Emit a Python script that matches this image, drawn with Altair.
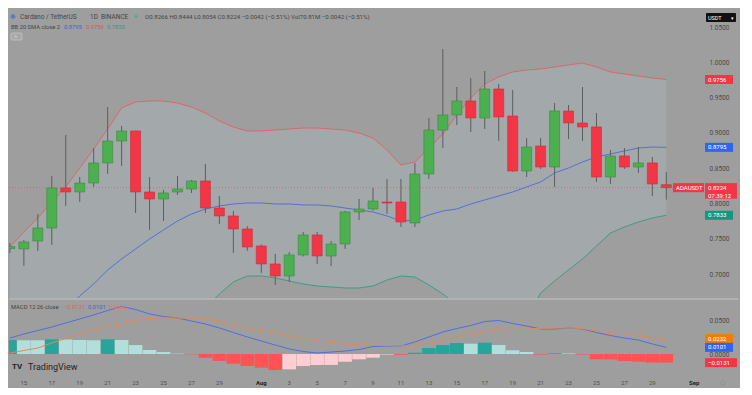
import altair as alt
import pandas as pd

FONT = "Roboto"

# day index: 0 = July 15 (daily candles, last = Aug 30)
day = list(range(-1, 47))
open_ = [0.7360, 0.7356, 0.7469, 0.7653, 0.8220, 0.8163, 0.8290, 0.8574, 0.8885, 0.9027,
         0.8163, 0.8064, 0.8163, 0.8205, 0.8319, 0.7936, 0.7823, 0.7639, 0.7398, 0.7143,
         0.6973, 0.7271, 0.7554, 0.7256, 0.7426, 0.7880, 0.7922, 0.8021, 0.8021, 0.7724,
         0.8418, 0.9041, 0.9254, 0.9452, 0.9211, 0.9622, 0.9239, 0.8460, 0.8814, 0.8517,
         0.9310, 0.9140, 0.9084, 0.8375, 0.8673, 0.8517, 0.8574, 0.8266]
high = [0.7440, 0.7483, 0.7851, 0.8390, 0.8970, 0.8375, 0.8786, 0.9367, 0.9098, 0.9030,
        0.8375, 0.8191, 0.8390, 0.8333, 0.8559, 0.8106, 0.7894, 0.7680, 0.7420, 0.7285,
        0.7313, 0.7596, 0.7596, 0.7469, 0.7894, 0.8064, 0.8220, 0.8347, 0.8347, 0.8574,
        0.9211, 1.0188, 0.9650, 0.9778, 0.9877, 0.9693, 0.9608, 0.8928, 0.8928, 0.9424,
        0.9395, 0.9650, 0.9282, 0.8758, 0.8786, 0.8800, 0.8659, 0.8444]
low = [0.7300, 0.7115, 0.7327, 0.7412, 0.7965, 0.8021, 0.8234, 0.8418, 0.8531, 0.7865,
       0.7625, 0.7752, 0.8120, 0.8149, 0.7865, 0.7710, 0.7299, 0.7330, 0.7016, 0.6846,
       0.6888, 0.7250, 0.7143, 0.7115, 0.7356, 0.7766, 0.7900, 0.7851, 0.7667, 0.7667,
       0.8347, 0.8786, 0.9112, 0.9013, 0.9055, 0.8885, 0.8450, 0.8375, 0.8489, 0.8234,
       0.8914, 0.8885, 0.8305, 0.8276, 0.8489, 0.8432, 0.8106, 0.8054]
close = [0.7390, 0.7455, 0.7653, 0.8220, 0.8163, 0.8290, 0.8574, 0.8885, 0.9027, 0.8163,
         0.8064, 0.8149, 0.8205, 0.8319, 0.7936, 0.7823, 0.7639, 0.7384, 0.7143, 0.6973,
         0.7271, 0.7554, 0.7256, 0.7426, 0.7880, 0.7922, 0.8035, 0.8007, 0.7738, 0.8418,
         0.9041, 0.9254, 0.9452, 0.9211, 0.9622, 0.9225, 0.8460, 0.8800, 0.8517, 0.9310,
         0.9140, 0.9084, 0.8375, 0.8673, 0.8517, 0.8574, 0.8276, 0.8224]

bb_upper = [0.7384, 0.7596, 0.7795, 0.8021, 0.8234, 0.8503, 0.8772, 0.9055, 0.9353, 0.9438,
            0.9452, 0.9452, 0.9423, 0.9367, 0.9282, 0.9169, 0.9084, 0.9027, 0.9027, 0.9041,
            0.9055, 0.9069, 0.9069, 0.9055, 0.9041, 0.8999, 0.8928, 0.8758, 0.8545, 0.8588,
            0.8786, 0.8984, 0.9254, 0.9494, 0.9693, 0.9792, 0.9863, 0.9891, 0.9905, 0.9933,
            0.9962, 0.9990, 0.9933, 0.9863, 0.9834, 0.9806, 0.9778, 0.9756]
bb_basis = [0.5783, 0.5953, 0.6137, 0.6307, 0.6492, 0.6690, 0.6860, 0.7058, 0.7214, 0.7356,
            0.7497, 0.7625, 0.7752, 0.7851, 0.7922, 0.7965, 0.7993, 0.8007, 0.8007, 0.7993,
            0.7993, 0.7979, 0.7979, 0.7965, 0.7936, 0.7908, 0.7880, 0.7823, 0.7752, 0.7766,
            0.7837, 0.7894, 0.7922, 0.7993, 0.8050, 0.8106, 0.8163, 0.8234, 0.8305, 0.8432,
            0.8503, 0.8588, 0.8659, 0.8701, 0.8744, 0.8786, 0.8800, 0.8795]
bb_lower = [0.4200, 0.4300, 0.4500, 0.4600, 0.4700, 0.4900, 0.5000, 0.5100, 0.5100, 0.5300,
            0.5500, 0.5800, 0.6100, 0.6350, 0.6520, 0.6718, 0.6888, 0.6973, 0.6973, 0.6945,
            0.6902, 0.6860, 0.6831, 0.6817, 0.6803, 0.6803, 0.6831, 0.6916, 0.6973, 0.6959,
            0.6846, 0.6718, 0.6562, 0.6378, 0.6208, 0.6137, 0.6137, 0.6350, 0.6732, 0.6902,
            0.7058, 0.7214, 0.7398, 0.7582, 0.7667, 0.7738, 0.7795, 0.7833]

macd_line = [0.0242, 0.0303, 0.0356, 0.0409, 0.0470, 0.0530, 0.0591, 0.0659, 0.0720, 0.0674,
             0.0606, 0.0568, 0.0545, 0.0500, 0.0455, 0.0394, 0.0326, 0.0258, 0.0197, 0.0136,
             0.0076, 0.0038, 0.0015, 0.0030, 0.0045, 0.0068, 0.0114, 0.0121, 0.0121, 0.0182,
             0.0258, 0.0333, 0.0386, 0.0432, 0.0492, 0.0508, 0.0462, 0.0424, 0.0379, 0.0379,
             0.0394, 0.0379, 0.0326, 0.0280, 0.0242, 0.0212, 0.0152, 0.0101]
signal_line = [0.0015, 0.0053, 0.0091, 0.0167, 0.0235, 0.0303, 0.0364, 0.0417, 0.0462, 0.0508,
               0.0538, 0.0545, 0.0545, 0.0545, 0.0530, 0.0500, 0.0447, 0.0394, 0.0356, 0.0318,
               0.0273, 0.0227, 0.0197, 0.0174, 0.0152, 0.0136, 0.0136, 0.0129, 0.0121, 0.0136,
               0.0167, 0.0205, 0.0258, 0.0295, 0.0333, 0.0364, 0.0371, 0.0379, 0.0386, 0.0394,
               0.0394, 0.0386, 0.0348, 0.0326, 0.0303, 0.0280, 0.0250, 0.0232]
histogram = [0.0212, 0.0208, 0.0208, 0.0223, 0.0220, 0.0212, 0.0208, 0.0223, 0.0212, 0.0136,
             0.0061, 0.0030, 0.0005, -0.0005, -0.0056, -0.0106, -0.0147, -0.0182, -0.0208, -0.0242,
             -0.0232, -0.0182, -0.0167, -0.0165, -0.0117, -0.0080, -0.0056, -0.0008, -0.0012, 0.0020,
             0.0091, 0.0136, 0.0167, 0.0156, 0.0171, 0.0136, 0.0056, 0.0030, -0.0008, 0.0010,
             0.0008, -0.0008, -0.0080, -0.0082, -0.0106, -0.0117, -0.0129, -0.0131]
hist_shade = ["g", "lg", "lg", "g", "lg", "lg", "lg", "g", "lg", "lg",
              "lg", "lg", "lg", "r", "r", "r", "r", "r", "r", "r",
              "lr", "lr", "lr", "lr", "lr", "lr", "lr", "lr", "r", "g",
              "g", "g", "g", "lg", "g", "lg", "lg", "lg", "r", "g",
              "lg", "r", "r", "r", "r", "r", "r", "r"]

tick_day = [0, 2, 4, 6, 8, 10, 12, 14, 17, 19, 21, 23, 25, 27, 29, 31, 33, 35, 37, 39, 41, 43, 45, 48]
tick_label = ["15", "17", "19", "21", "23", "25", "27", "29", "Aug", "3", "5", "7", "9", "11",
              "13", "15", "17", "19", "21", "23", "25", "27", "29", "Sep"]
month_labels = ["Aug", "Sep"]

price_ticks = [0.70, 0.75, 0.80, 0.85, 0.90, 0.95, 1.00, 1.05]
macd_ticks = [0.0, 0.05]

df = pd.DataFrame(dict(day=day, open=open_, high=high, low=low, close=close,
                       upper=bb_upper, basis=bb_basis, lower=bb_lower,
                       macd=macd_line, signal=signal_line, hist=histogram, shade=hist_shade))
df["dir"] = ["up" if c >= o else "down" for o, c in zip(open_, close)]

W = 682
H_MAIN = 288
H_MACD = 77
BG = "#9e9e9e"
TXT = "#454545"

xsc = alt.Scale(domain=[-0.706, 47.41], nice=False, zero=False)
ysc = alt.Scale(domain=[0.6661, 1.0741], nice=False, zero=False)
msc = alt.Scale(domain=[-0.0333, 0.0833], nice=False, zero=False)

yax = alt.Axis(orient="right", values=price_ticks, format=".4f", labelPadding=18, ticks=False,
               domain=False, grid=False, labelFontSize=6.5, labelColor="#4a4a4a", labelFont=FONT,
               title=None)
max_ = alt.Axis(orient="right", values=macd_ticks, format=".4f", labelPadding=18, ticks=False,
                domain=False, grid=False, labelFontSize=6.5, labelColor="#4a4a4a", labelFont=FONT,
                title=None)

X = alt.X("day:Q", scale=xsc, axis=None)
base = alt.Chart(df)


def label(text, x, y, color=TXT, size=6.5, weight="normal", align="left"):
    return alt.Chart(pd.DataFrame({"t": [text]})).mark_text(
        align=align, baseline="middle", fontSize=size, font=FONT, color=color, fontWeight=weight
    ).encode(x=alt.value(x), y=alt.value(y), text="t:N")


def tag(value, text, fill, sc, ax, x1=696, x2=724, up=4.5, down=4.5, tx=699, text2=None):
    d = alt.Chart(pd.DataFrame({"v": [value], "t": [text], "t2": [text2 or ""]}))
    layers = [
        d.mark_rect(color=fill, yOffset=-up, y2Offset=down).encode(
            y=alt.Y("v:Q", scale=sc, axis=ax), y2="v:Q", x=alt.value(x1), x2=alt.value(x2)),
        d.mark_text(align="left", baseline="middle", color="white", fontSize=6, font=FONT).encode(
            y=alt.Y("v:Q", scale=sc, axis=ax), x=alt.value(tx), text="t:N"),
    ]
    if text2:
        layers.append(d.mark_text(align="left", baseline="middle", color="white", fontSize=6,
                                  font=FONT, dy=8).encode(
            y=alt.Y("v:Q", scale=sc, axis=ax), x=alt.value(tx), text="t2:N"))
    return layers


# ---------------- main panel ----------------
band = base.mark_area(color="#a3a8ab", clip=True).encode(
    X, alt.Y("lower:Q", scale=ysc, axis=yax), alt.Y2("upper:Q"))
up_line = base.mark_line(color="#d9686c", strokeWidth=1, clip=True).encode(
    X, alt.Y("upper:Q", scale=ysc, axis=yax))
mid_line = base.mark_line(color="#5670d6", strokeWidth=1, clip=True).encode(
    X, alt.Y("basis:Q", scale=ysc, axis=yax))
lo_line = base.mark_line(color="#3f9c86", strokeWidth=1, clip=True).encode(
    X, alt.Y("lower:Q", scale=ysc, axis=yax))

last_close = close[-1]
price_line = alt.Chart(pd.DataFrame({"v": [last_close]})).mark_rule(
    color="#e04858", strokeDash=[1, 2], opacity=0.55, strokeWidth=1).encode(
    y=alt.Y("v:Q", scale=ysc, axis=yax), x=alt.value(0), x2=alt.value(W))

wicks = base.mark_rule(color="#5e5e5e", strokeWidth=1, clip=True).encode(
    X, alt.Y("low:Q", scale=ysc, axis=yax), alt.Y2("high:Q"))
bodies = base.mark_bar(size=10, clip=True, strokeWidth=0.6).encode(
    X, alt.Y("open:Q", scale=ysc, axis=yax), alt.Y2("close:Q"),
    color=alt.Color("dir:N", scale=alt.Scale(domain=["up", "down"], range=["#4caf50", "#f23645"]),
                    legend=None),
    stroke=alt.Stroke("dir:N", scale=alt.Scale(domain=["up", "down"], range=["#3b8a3e", "#c92d3a"]),
                      legend=None))

ohlc = (f"O{open_[-1]:.4f}  H{high[-1]:.4f}  L{low[-1]:.4f}  C{close[-1]:.4f}  "
        f"\u22120.0042 (\u22120.51%)  Vol70.81M  \u22120.0042 (\u22120.51%)")

logo = alt.Chart(pd.DataFrame({"a": [1]})).mark_point(
    shape="circle", filled=True, color="#3a6fd8", size=22).encode(x=alt.value(4), y=alt.value(6.5))
gdot = alt.Chart(pd.DataFrame({"a": [1]})).mark_point(
    shape="circle", filled=True, color="#2fb08a", size=10).encode(x=alt.value(127), y=alt.value(6.5))
collapse = alt.Chart(pd.DataFrame({"a": [1]})).mark_rect(
    fill="#a8a8a8", stroke="#c4c4c4", strokeWidth=0.8, cornerRadius=1).encode(
    x=alt.value(2), x2=alt.value(13), y=alt.value(23), y2=alt.value(30))
usdt_box = alt.Chart(pd.DataFrame({"a": [1]})).mark_rect(fill="#111111", cornerRadius=1).encode(
    x=alt.value(697), x2=alt.value(727), y=alt.value(3), y2=alt.value(12))

main_layers = [band, up_line, mid_line, lo_line, price_line, wicks, bodies,
               logo, label("Cardano / TetherUS", 11, 6.5),
               label("1D", 81, 6.5), label("BINANCE", 92, 6.5), gdot,
               label(ohlc, 136, 6.5, size=6.1),
               label("BB 20 SMA close 2", 2, 17, size=5.8),
               label(f"{bb_basis[-1]:.4f}", 55, 17, color="#3f63d8", size=5.8),
               label(f"{bb_upper[-1]:.4f}", 77, 17, color="#d8555c", size=5.8),
               label(f"{bb_lower[-1]:.4f}", 98, 17, color="#2e9a80", size=5.8),
               collapse, label("\u02c4", 5, 27, color="#eeeeee", size=6),
               usdt_box, label("USDT", 699, 7.5, color="white", size=5.5),
               label("\u25be", 725, 7.5, color="white", size=5, align="right")]
main_layers += tag(bb_upper[-1], f"{bb_upper[-1]:.4f}", "#f23645", ysc, yax)
main_layers += tag(bb_basis[-1], f"{bb_basis[-1]:.4f}", "#2f66f0", ysc, yax)
main_layers += tag(bb_lower[-1], f"{bb_lower[-1]:.4f}", "#129880", ysc, yax)
main_layers += tag(last_close, "ADAUSDT", "#f23645", ysc, yax, x1=664, x2=695, tx=667)
main_layers += tag(last_close, f"{last_close:.4f}", "#f23645", ysc, yax, x1=696, x2=728,
                   up=4.5, down=11, text2="07:39:12")

main = alt.layer(*main_layers).properties(width=W, height=H_MAIN)

# ---------------- MACD panel ----------------
bars = base.mark_bar(size=13.6, clip=True).encode(
    X, alt.Y("hist:Q", scale=msc, axis=max_), y2=alt.datum(0),
    color=alt.Color("shade:N", scale=alt.Scale(domain=["g", "lg", "r", "lr"],
                                               range=["#26a69a", "#b2dfdb", "#ff5252", "#ffcdd2"]),
                    legend=None))
macd_l = base.mark_line(color="#4f6fe0", strokeWidth=1, clip=True).encode(
    X, alt.Y("macd:Q", scale=msc, axis=max_))
sig_l = base.mark_line(color="#e08a55", strokeWidth=1, clip=True).encode(
    X, alt.Y("signal:Q", scale=msc, axis=max_))
sep = alt.Chart(pd.DataFrame({"a": [1]})).mark_rule(color="#b8b8b8", strokeWidth=1.5).encode(
    x=alt.value(0), x2=alt.value(729), y=alt.value(0))

ticks_df = pd.DataFrame({"d": tick_day, "lab": tick_label})
reg_ticks = alt.Chart(ticks_df[~ticks_df.lab.isin(month_labels)]).mark_text(
    fontSize=6, font=FONT, color="#505050", baseline="middle").encode(
    x=alt.X("d:Q", scale=xsc, axis=None), y=alt.value(84), text="lab:N")
mon_ticks = alt.Chart(ticks_df[ticks_df.lab.isin(month_labels)]).mark_text(
    fontSize=6, font=FONT, color="#222222", fontWeight="bold", baseline="middle").encode(
    x=alt.X("d:Q", scale=xsc, axis=None), y=alt.value(84), text="lab:N")
gear = alt.Chart(pd.DataFrame({"a": [1]})).mark_point(
    shape="circle", filled=False, color="#8a8a8a", size=18, strokeWidth=0.8).encode(
    x=alt.value(714), y=alt.value(84))

macd_layers = [bars, macd_l, sig_l, sep,
               label("MACD 12 26 close", 2, 8, size=5.8),
               label(f"{histogram[-1]:.4f}".replace("-", "\u2212"), 55, 8, color="#e0605c", size=5.8),
               label(f"{macd_line[-1]:.4f}", 79, 8, color="#3f63d8", size=5.8),
               label(f"{signal_line[-1]:.4f}", 100, 8, color="#e0803f", size=5.8),
               label("TV", 3, 68, color="#1e1e1e", size=8, weight="bold"),
               label("TradingView", 19, 68, color="#1e1e1e", size=9),
               reg_ticks, mon_ticks, gear]
macd_layers += tag(signal_line[-1], f"{signal_line[-1]:.4f}", "#f57c00", msc, max_)
macd_layers += tag(macd_line[-1], f"{macd_line[-1]:.4f}", "#2f66f0", msc, max_)
macd_layers += tag(histogram[-1], f"{histogram[-1]:.4f}".replace("-", "\u2212"), "#f23645",
                   msc, max_, x2=728)

macd = alt.layer(*macd_layers).properties(width=W, height=H_MACD)

chart = alt.vconcat(main, macd, spacing=0).resolve_scale(
    color="independent", stroke="independent", y="independent"
).properties(
    padding={"left": 0, "top": 2, "right": 1, "bottom": 1}
).configure(background=BG).configure_view(strokeWidth=0).configure_concat(spacing=0)

chart.save("out.html", embed_options={"renderer": "svg", "actions": False})
